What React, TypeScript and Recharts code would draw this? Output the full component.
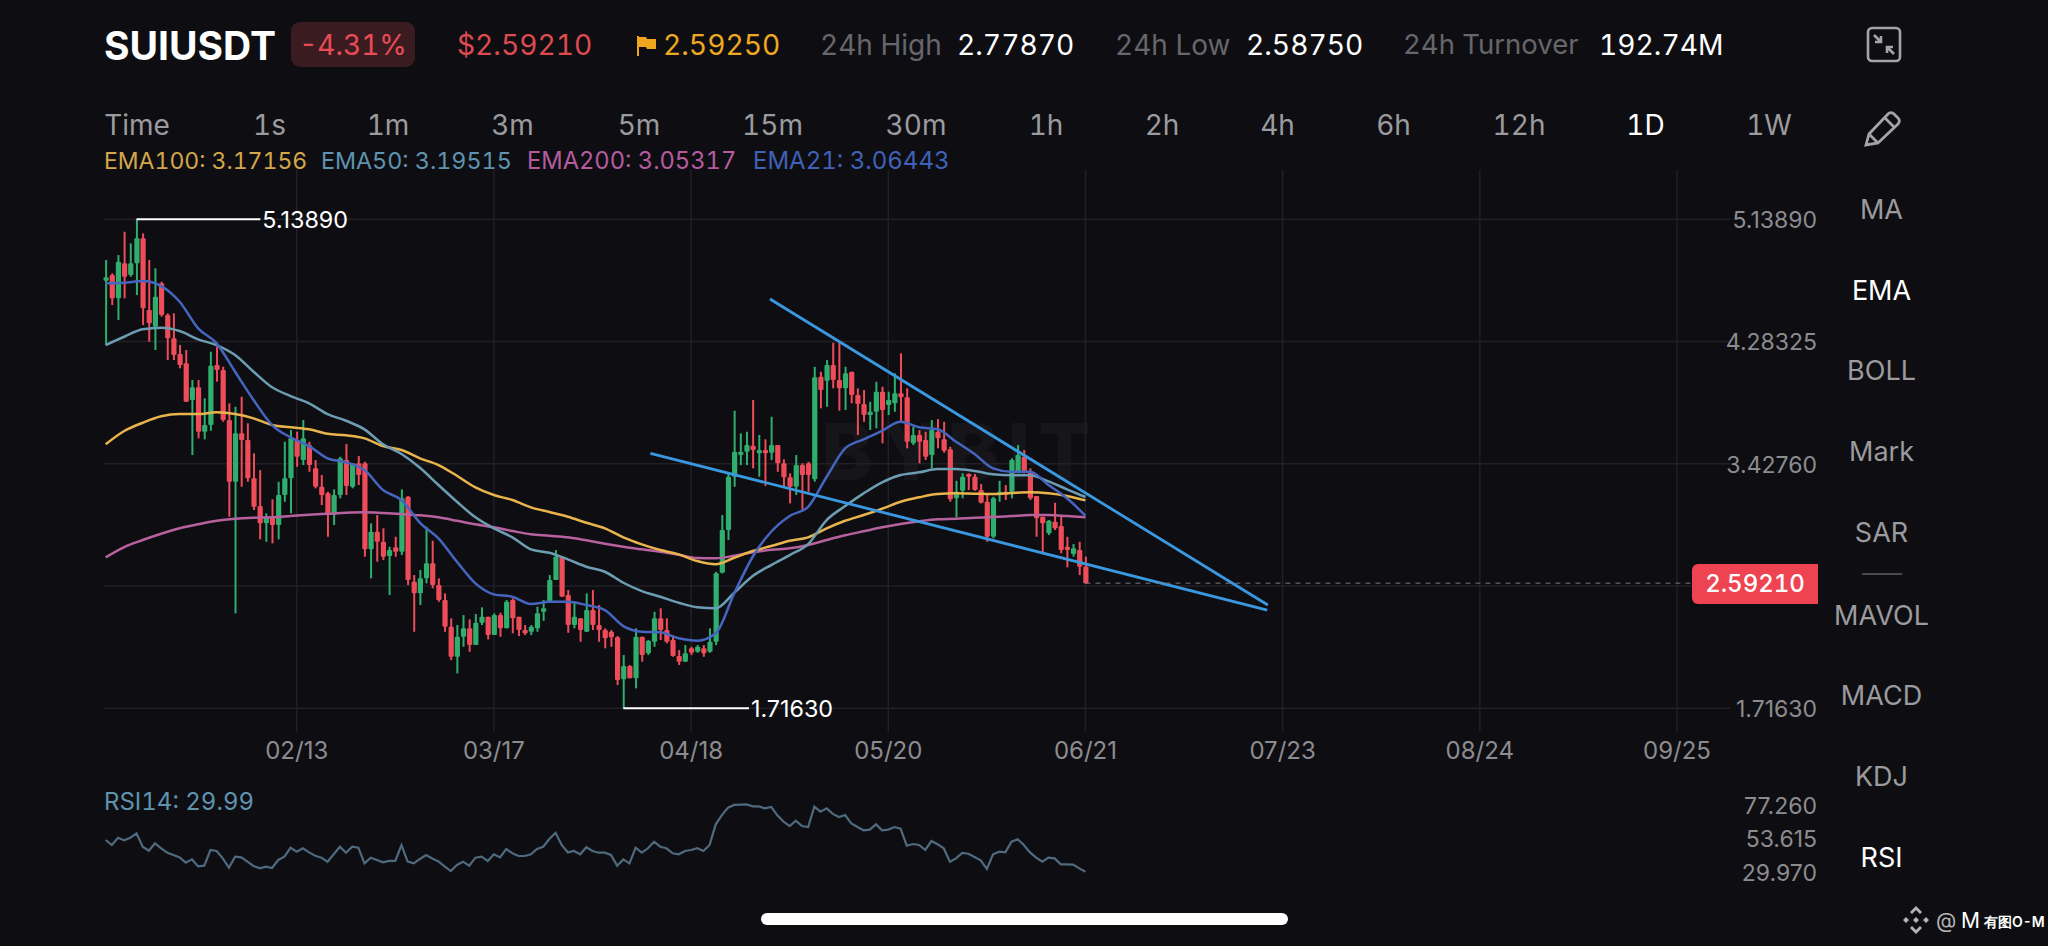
import { Bar, CartesianGrid, ComposedChart, Line, ReferenceDot, ReferenceLine, XAxis, YAxis } from "recharts"

// daily candles, 01/13 to 06/21
const opens = [
  4.709, 4.749, 4.586, 4.831, 4.749, 4.831, 5.006, 4.504, 4.387, 4.691,
  4.469, 4.306, 4.196, 4.131, 3.874, 3.963, 3.652, 3.699, 4.119, 4.084,
  3.734, 3.302, 3.641, 3.594, 3.326, 3.132, 3.011, 3.057, 2.999, 3.209,
  3.326, 3.589, 3.454, 3.559, 3.396, 3.267, 3.221, 3.069, 3.209, 3.454,
  3.267, 3.431, 3.431, 2.829, 2.952, 2.882, 2.782, 2.843, 2.812, 3.197,
  2.602, 2.521, 2.626, 2.731, 2.579, 2.474, 2.287, 2.077, 2.217, 2.276,
  2.159, 2.315, 2.357, 2.229, 2.369, 2.276, 2.474, 2.357, 2.264, 2.252,
  2.276, 2.392, 2.462, 2.614, 2.777, 2.509, 2.299, 2.346, 2.252, 2.404,
  2.299, 2.264, 2.252, 2.213, 1.919, 2.012, 1.926, 2.217, 2.101, 2.182,
  2.346, 2.264, 2.194, 2.082, 2.042, 2.136, 2.112, 2.136, 2.112, 2.182,
  2.665, 2.964, 3.337, 3.489, 3.512, 3.554, 3.501, 3.524, 3.505, 3.559,
  3.431, 3.333, 3.267, 3.419, 3.431, 3.319, 4.037, 4.009, 4.119, 4.014,
  3.956, 4.072, 3.909, 3.846, 3.769, 3.792, 3.932, 3.839, 3.851, 3.921,
  3.893, 3.571, 3.629, 3.594, 3.489, 3.652, 3.599, 3.529, 3.186, 3.239,
  3.356, 3.337, 3.244, 3.162, 2.917, 3.209, 3.232, 3.232, 3.365, 3.477,
  3.372, 3.202, 3.057, 2.941, 3.022, 2.992, 2.847, 2.796, 2.824, 2.7087,
]
const closes = [
  4.733, 4.586, 4.842, 4.737, 4.831, 5.006, 4.516, 4.411, 4.597, 4.469,
  4.306, 4.189, 4.119, 3.862, 3.963, 3.652, 3.699, 4.114, 4.084, 3.734,
  3.302, 3.641, 3.594, 3.326, 3.127, 3.011, 3.057, 2.999, 3.209, 3.326,
  3.606, 3.477, 3.606, 3.419, 3.267, 3.209, 3.069, 3.209, 3.466, 3.272,
  3.431, 3.349, 2.829, 2.952, 2.882, 2.777, 2.824, 2.812, 3.186, 2.614,
  2.521, 2.626, 2.731, 2.579, 2.474, 2.287, 2.077, 2.217, 2.276, 2.159,
  2.315, 2.357, 2.229, 2.369, 2.276, 2.462, 2.346, 2.264, 2.241, 2.287,
  2.381, 2.416, 2.614, 2.777, 2.497, 2.299, 2.357, 2.264, 2.404, 2.299,
  2.264, 2.206, 2.213, 1.914, 2.012, 1.926, 2.217, 2.089, 2.189, 2.346,
  2.264, 2.182, 2.082, 2.042, 2.101, 2.105, 2.147, 2.101, 2.182, 2.661,
  2.964, 3.337, 3.512, 3.512, 3.559, 3.524, 3.524, 3.501, 3.559, 3.431,
  3.333, 3.267, 3.419, 3.349, 3.349, 4.033, 3.944, 4.119, 4.014, 3.956,
  4.061, 3.909, 3.846, 3.769, 3.792, 3.932, 3.804, 3.874, 3.921, 3.893,
  3.582, 3.629, 3.582, 3.477, 3.664, 3.606, 3.519, 3.179, 3.232, 3.337,
  3.337, 3.244, 3.155, 2.917, 3.186, 3.232, 3.209, 3.454, 3.489, 3.372,
  3.186, 3.046, 3.011, 3.029, 2.976, 2.824, 2.824, 2.836, 2.707, 2.5921,
]
const highs = [
  4.854, 4.761, 4.889, 5.052, 4.971, 5.1389, 5.041, 4.854, 4.796, 4.702,
  4.481, 4.481, 4.259, 4.224, 4.014, 4.014, 3.886, 4.212, 4.247, 4.107,
  3.851, 3.827, 3.897, 3.711, 3.501, 3.384, 3.081, 3.179, 3.302, 3.582,
  3.664, 3.652, 3.734, 3.582, 3.454, 3.349, 3.232, 3.249, 3.477, 3.566,
  3.431, 3.482, 3.442, 3.011, 3.069, 2.976, 2.847, 2.917, 3.249, 3.202,
  2.649, 2.684, 2.987, 2.889, 2.626, 2.521, 2.346, 2.299, 2.369, 2.339,
  2.376, 2.423, 2.357, 2.381, 2.385, 2.474, 2.486, 2.357, 2.299, 2.299,
  2.427, 2.474, 2.649, 2.824, 2.777, 2.544, 2.462, 2.346, 2.521, 2.544,
  2.439, 2.276, 2.264, 2.222, 2.089, 2.019, 2.276, 2.217, 2.194, 2.392,
  2.416, 2.346, 2.229, 2.124, 2.159, 2.147, 2.159, 2.159, 2.276, 2.672,
  3.069, 3.361, 3.799, 3.641, 3.652, 3.874, 3.629, 3.599, 3.757, 3.559,
  3.459, 3.361, 3.489, 3.431, 3.442, 4.107, 4.072, 4.154, 4.275, 4.282,
  4.107, 4.072, 3.956, 3.944, 3.862, 4.002, 3.967, 3.932, 4.061, 4.201,
  3.956, 3.687, 3.664, 3.652, 3.734, 3.741, 3.722, 3.547, 3.309, 3.361,
  3.361, 3.356, 3.286, 3.209, 3.197, 3.309, 3.279, 3.466, 3.559, 3.524,
  3.396, 3.202, 3.057, 3.034, 3.155, 3.057, 2.917, 2.866, 2.882, 2.7787,
]
const lows = [
  4.259, 4.539, 4.434, 4.586, 4.737, 4.609, 4.399, 4.282, 4.224, 4.457,
  4.154, 4.154, 4.096, 3.862, 3.489, 3.606, 3.599, 3.659, 4.002, 3.722,
  3.057, 2.381, 3.267, 3.302, 3.104, 2.899, 2.882, 2.871, 2.899, 3.162,
  3.081, 3.407, 3.419, 3.372, 3.256, 3.139, 2.917, 2.999, 3.186, 3.209,
  3.256, 3.279, 2.777, 2.626, 2.742, 2.754, 2.509, 2.777, 2.789, 2.579,
  2.252, 2.439, 2.591, 2.556, 2.462, 2.252, 2.054, 1.961, 2.147, 2.112,
  2.159, 2.299, 2.199, 2.229, 2.217, 2.276, 2.241, 2.222, 2.229, 2.229,
  2.252, 2.329, 2.462, 2.614, 2.497, 2.245, 2.276, 2.182, 2.252, 2.264,
  2.182, 2.136, 2.147, 1.879, 1.7163, 1.926, 1.856, 2.042, 2.089, 2.147,
  2.194, 2.171, 2.077, 2.019, 2.042, 2.089, 2.105, 2.077, 2.105, 2.159,
  2.661, 2.894, 3.267, 3.419, 3.419, 3.396, 3.337, 3.272, 3.454, 3.372,
  3.267, 3.151, 3.209, 3.104, 3.232, 3.302, 3.816, 3.827, 3.956, 3.799,
  3.804, 3.851, 3.629, 3.722, 3.664, 3.676, 3.571, 3.769, 3.792, 3.722,
  3.536, 3.559, 3.431, 3.454, 3.396, 3.536, 3.505, 3.162, 3.053, 3.186,
  3.244, 3.239, 3.151, 2.882, 2.906, 3.162, 3.174, 3.186, 3.361, 3.361,
  3.174, 2.917, 2.805, 2.929, 2.964, 2.801, 2.703, 2.777, 2.649, 2.5875,
]

// ema values read every third candle
const ema21Values = [
  4.691, 4.695, 4.707, 4.672, 4.562, 4.376, 4.271, 4.072, 3.874, 3.699,
  3.613, 3.552, 3.466, 3.438, 3.384, 3.244, 3.174, 3.015, 2.906, 2.742,
  2.591, 2.514, 2.497, 2.446, 2.462, 2.462, 2.439, 2.404, 2.292, 2.252,
  2.248, 2.206, 2.189, 2.241, 2.521, 2.777, 2.952, 3.062, 3.127, 3.337,
  3.536, 3.599, 3.659, 3.722, 3.683, 3.669, 3.582, 3.496, 3.396, 3.372,
  3.372, 3.279, 3.186, 3.06443,
]
const ema50Values = [
  4.259, 4.317, 4.369, 4.38, 4.357, 4.299, 4.259, 4.189, 4.072, 3.963,
  3.902, 3.851, 3.776, 3.729, 3.669, 3.564, 3.496, 3.4, 3.279, 3.162,
  3.053, 2.976, 2.913, 2.829, 2.805, 2.759, 2.707, 2.672, 2.595, 2.537,
  2.497, 2.455, 2.423, 2.416, 2.525, 2.642, 2.719, 2.789, 2.866, 3.034,
  3.132, 3.221, 3.298, 3.349, 3.368, 3.391, 3.391, 3.377, 3.354, 3.347,
  3.347, 3.305, 3.249, 3.19515,
]
const ema100Values = [
  3.564, 3.657, 3.715, 3.76, 3.776, 3.776, 3.788, 3.776, 3.746, 3.699,
  3.683, 3.669, 3.638, 3.627, 3.606, 3.552, 3.524, 3.466, 3.419, 3.344,
  3.263, 3.209, 3.174, 3.123, 3.09, 3.057, 3.015, 2.976, 2.913, 2.864,
  2.824, 2.794, 2.747, 2.724, 2.77, 2.817, 2.852, 2.889, 2.913, 2.976,
  3.029, 3.069, 3.113, 3.162, 3.193, 3.216, 3.221, 3.218, 3.216, 3.223,
  3.228, 3.221, 3.202, 3.17156,
]
const ema200Values = [
  2.773, 2.845, 2.894, 2.938, 2.976, 3.004, 3.029, 3.043, 3.05, 3.053,
  3.062, 3.071, 3.078, 3.085, 3.088, 3.083, 3.076, 3.067, 3.053, 3.029,
  3.004, 2.983, 2.957, 2.934, 2.924, 2.913, 2.892, 2.868, 2.847, 2.829,
  2.812, 2.791, 2.768, 2.766, 2.784, 2.808, 2.826, 2.836, 2.859, 2.894,
  2.927, 2.955, 2.983, 3.006, 3.025, 3.039, 3.043, 3.05, 3.055, 3.062,
  3.069, 3.069, 3.062, 3.05317,
]

const rsiValues = [
  52.2, 48.7, 53.8, 52.0, 53.8, 56.9, 47.5, 44.7, 49.9, 46.4,
  43.3, 41.7, 40.0, 36.3, 38.6, 33.7, 34.2, 45.2, 44.5, 39.3,
  32.8, 40.5, 40.0, 37.0, 34.0, 32.3, 33.5, 32.6, 38.2, 40.5,
  46.8, 44.0, 46.4, 43.5, 41.2, 39.8, 37.0, 42.2, 47.5, 43.3,
  47.5, 46.8, 35.8, 39.8, 38.2, 36.5, 37.5, 37.5, 48.7, 37.0,
  35.8, 38.9, 41.7, 39.3, 37.2, 33.7, 30.4, 34.7, 37.0, 34.2,
  39.8, 40.5, 37.5, 42.2, 40.0, 45.9, 42.9, 41.0, 41.0, 42.2,
  45.9, 47.5, 52.9, 57.3, 48.7, 43.5, 44.5, 42.2, 47.1, 44.5,
  43.3, 43.3, 41.7, 34.2, 38.6, 35.8, 46.8, 43.3, 46.4, 51.0,
  47.5, 46.4, 42.9, 42.2, 44.5, 45.2, 46.4, 44.5, 48.7, 63.2,
  69.7, 74.9, 76.8, 77.0, 77.2, 75.8, 75.8, 74.4, 75.4, 69.5,
  65.1, 62.0, 65.8, 62.0, 61.3, 75.6, 72.1, 74.4, 70.5, 68.3,
  69.7, 63.9, 61.3, 59.0, 59.5, 63.2, 59.0, 59.5, 61.3, 60.2,
  48.2, 49.4, 48.7, 45.2, 51.5, 49.2, 46.4, 37.0, 39.3, 43.1,
  42.6, 40.3, 38.0, 31.9, 42.2, 44.0, 43.5, 51.0, 52.7, 48.7,
  43.5, 39.8, 37.0, 39.8, 39.3, 35.1, 35.1, 34.9, 32.3, 29.99,
]

const dateTicks = [31, 63, 95, 127, 159, 191, 223, 255]
const dateLabels = ["02/13", "03/17", "04/18", "05/20", "06/21", "07/23", "08/24", "09/25"]
const priceTicks = [1.7163, 2.57195, 3.4276, 4.28325, 5.1389]
const rsiTicks = [29.97, 53.615, 77.26]

const intervals = ["Time", "1s", "1m", "3m", "5m", "15m", "30m", "1h", "2h", "4h", "6h", "12h", "1D", "1W"]
const indicators = ["MA", "EMA", "BOLL", "Mark", "SAR", "MAVOL", "MACD", "KDJ", "RSI"]

const rows = opens.map((open, i) => ({
  day: i,
  open,
  close: closes[i],
  high: highs[i],
  low: lows[i],
  range: [lows[i], highs[i]],
  rsi: rsiValues[i],
  ema21: i % 3 === 0 ? ema21Values[i / 3] : null,
  ema50: i % 3 === 0 ? ema50Values[i / 3] : null,
  ema100: i % 3 === 0 ? ema100Values[i / 3] : null,
  ema200: i % 3 === 0 ? ema200Values[i / 3] : null,
}))

const UP = "#2fae6e"
const DOWN = "#ee4c59"
const BG = "#0e0e12"
const DAY_DOMAIN = [-0.276, 263.6]

function Candle(props: any) {
  const { x, y, width, height, payload } = props
  const cx = x + width / 2
  const h = Math.abs(height)
  const span = payload.high - payload.low
  const py = (v: number) => y + ((payload.high - v) / span) * h
  const color = payload.close >= payload.open ? UP : DOWN
  const top = py(Math.max(payload.open, payload.close))
  const bottom = py(Math.min(payload.open, payload.close))
  return (
    <g>
      <line x1={cx} x2={cx} y1={y} y2={y + h} stroke={color} strokeWidth={2} />
      <rect x={cx - 2.6} y={top} width={5.2} height={Math.max(bottom - top, 1.5)} rx={1} fill={color} />
    </g>
  )
}

function Txt({ x, y, size, color, weight, center, children, spacing }: any) {
  return (
    <div
      style={{
        position: "absolute",
        left: x,
        top: y,
        transform: center ? "translate(-50%,-50%)" : "translateY(-50%)",
        fontSize: size,
        color,
        fontWeight: weight || 400,
        lineHeight: 1,
        whiteSpace: "nowrap",
        letterSpacing: spacing,
        fontVariantNumeric: "tabular-nums",
      }}
    >
      {children}
    </div>
  )
}

const intervalX = [137, 269.5, 388, 512.5, 639, 772.5, 916, 1046, 1162, 1277.5, 1393.5, 1519, 1645.5, 1769]
const indicatorY = [209, 289.5, 369.5, 451, 531.5, 615, 695, 776, 856.5]

export default function App() {
  return (
    <div
      style={{
        position: "absolute",
        left: 0,
        top: 0,
        width: 2048,
        height: 946,
        overflow: "hidden",
        background: BG,
        fontFamily: "Inter, sans-serif",
      }}
    >
      {/* header */}
      <Txt x={104} y={45} size={39} color="#fff" weight={700}>SUIUSDT</Txt>
      <div style={{ position: "absolute", left: 291, top: 22, width: 124, height: 45, borderRadius: 9, background: "#3a1b20" }} />
      <Txt x={353} y={45} size={28} color="#ea4b57" center>-4.31%</Txt>
      <Txt x={457} y={45} size={28.2} color="#dd4a50">$2.59210</Txt>
      <svg style={{ position: "absolute", left: 636, top: 35 }} width={21} height={22}>
        <path d="M1 1h2v20H1z M3 2h7l1 2h9v10h-9l-1-2H3z" fill="#f0a61c" />
      </svg>
      <Txt x={663} y={45} size={28.2} color="#eea821">2.59250</Txt>
      <Txt x={820} y={45} size={28} color="#66666b">24h High</Txt>
      <Txt x={957} y={45} size={28.2} color="#fff">2.77870</Txt>
      <Txt x={1115} y={45} size={28} color="#66666b">24h Low</Txt>
      <Txt x={1246} y={45} size={28.2} color="#fff">2.58750</Txt>
      <Txt x={1403} y={45} size={27.5} color="#66666b">24h Turnover</Txt>
      <Txt x={1599} y={45} size={28.2} color="#fff">192.74M</Txt>
      <svg style={{ position: "absolute", left: 1866, top: 26 }} width={36} height={37} fill="none" stroke="#a5a5a8">
        <rect x={2} y={2} width={32} height={33} rx={4} strokeWidth={2.6} />
        <path d="M8 9l7 7M15 10v6H9M28 28l-7-7M21 27v-6h6" strokeWidth={2.6} />
      </svg>
      <svg style={{ position: "absolute", left: 1864, top: 110 }} width={38} height={38} fill="none" stroke="#a5a5a8" strokeWidth={2.8}>
        <path d="M2 35l3-11L24 4a4 4 0 0 1 6 0l4 4a4 4 0 0 1 0 6L14 33z M21 8l10 10 M5 24l9 9" />
      </svg>

      {/* interval tabs */}
      {intervals.map((label, i) => (
        <Txt key={label} x={intervalX[i]} y={125} size={28} color={label === "1D" ? "#fff" : "#9b9b9f"} center>
          {label}
        </Txt>
      ))}

      {/* ema legend */}
      <Txt x={104} y={160.5} size={23} color="#d4a74a">EMA100: 3.17156</Txt>
      <Txt x={321} y={160.5} size={23.3} color="#5f93b0">EMA50: 3.19515</Txt>
      <Txt x={527} y={160.5} size={23.7} color="#b55ba0">EMA200: 3.05317</Txt>
      <Txt x={753} y={160.5} size={24} color="#3f62b8">EMA21: 3.06443</Txt>

      {/* exchange mark behind the candles */}
      <Txt x={960} y={452} size={78} color="#15151a" weight={800} spacing={8} center>BYBIT</Txt>

      <div style={{ position: "absolute", left: 0, top: 0 }}>
        <ComposedChart width={2048} height={780} data={rows} margin={{ top: 170, right: 231, left: 104, bottom: 0 }}>
          <CartesianGrid stroke="#202025" strokeWidth={1.5} syncWithTicks />
          <XAxis
            dataKey="day"
            type="number"
            domain={DAY_DOMAIN}
            ticks={dateTicks}
            height={48}
            axisLine={false}
            tickLine={false}
            tickSize={0}
            tick={({ x, y, payload }: any) => (
              <text x={x} y={y + 18} textAnchor="middle" dominantBaseline="middle" fontSize={24} fill="#8c8c90">
                {dateLabels[dateTicks.indexOf(payload.value)]}
              </text>
            )}
          />
          <YAxis
            orientation="right"
            type="number"
            domain={[1.5504, 5.4842]}
            ticks={priceTicks}
            width={87}
            axisLine={false}
            tickLine={false}
            tickSize={0}
            tick={({ x, y, payload }: any) =>
              payload.value === 2.57195 ? (
                <g />
              ) : (
                <text x={x + 85} y={y + 2.5} textAnchor="end" dominantBaseline="middle" fontSize={23} fill="#8c8c90">
                  {payload.value.toFixed(5)}
                </text>
              )
            }
          />
          <Bar dataKey="range" barSize={5} shape={<Candle />} isAnimationActive={false} />
          <Line dataKey="ema200" stroke="#b8619f" strokeWidth={2.5} dot={false} connectNulls type="monotone" isAnimationActive={false} />
          <Line dataKey="ema100" stroke="#e9b44c" strokeWidth={2.5} dot={false} connectNulls type="monotone" isAnimationActive={false} />
          <Line dataKey="ema50" stroke="#6d9db3" strokeWidth={2.5} dot={false} connectNulls type="monotone" isAnimationActive={false} />
          <Line dataKey="ema21" stroke="#4565c0" strokeWidth={2.5} dot={false} connectNulls type="monotone" isAnimationActive={false} />
          <ReferenceLine segment={[{ x: 107.8, y: 4.581 }, { x: 188.6, y: 2.439 }]} stroke="#3a98e0" strokeWidth={2.8} />
          <ReferenceLine segment={[{ x: 88.4, y: 3.501 }, { x: 188.5, y: 2.404 }]} stroke="#3a98e0" strokeWidth={2.8} />
          <ReferenceLine segment={[{ x: 159, y: 2.5921 }, { x: 257.4, y: 2.5921 }]} stroke="#77777b" strokeDasharray="5 5" strokeWidth={1} />
          <ReferenceLine segment={[{ x: 5, y: 5.1389 }, { x: 25.1, y: 5.1389 }]} stroke="#fff" strokeWidth={2} />
          <ReferenceLine segment={[{ x: 84, y: 1.7163 }, { x: 104.4, y: 1.7163 }]} stroke="#fff" strokeWidth={2} />
          <ReferenceDot x={25.1} y={5.1389} r={0} fill="none" stroke="none" label={{ value: "5.13890", position: "right", offset: 2, fill: "#fff", fontSize: 23.3 }} />
          <ReferenceDot x={104.4} y={1.7163} r={0} fill="none" stroke="none" label={{ value: "1.71630", position: "right", offset: 2, fill: "#fff", fontSize: 23.3 }} />
        </ComposedChart>
      </div>

      {/* last price tag */}
      <div style={{ position: "absolute", left: 1692, top: 564, width: 126, height: 40, borderRadius: "6px 0 0 6px", background: "#ee4452" }} />
      <Txt x={1755} y={584} size={24} color="#fff" weight={500} center>2.59210</Txt>

      {/* rsi pane */}
      <Txt x={104} y={802} size={24} color="#5f93b0">RSI14: 29.99</Txt>
      <div style={{ position: "absolute", left: 0, top: 760 }}>
        <ComposedChart width={2048} height={130} data={rows} margin={{ top: 44.3, right: 231, left: 104, bottom: 18.3 }}>
          <XAxis dataKey="day" type="number" domain={DAY_DOMAIN} hide />
          <YAxis
            orientation="right"
            type="number"
            domain={[29.97, 77.26]}
            ticks={rsiTicks}
            width={87}
            axisLine={false}
            tickLine={false}
            tickSize={0}
            tick={({ x, y, payload }: any) => (
              <text x={x + 85} y={y + 3} textAnchor="end" dominantBaseline="middle" fontSize={23} fill="#8c8c90">
                {payload.value.toFixed(3)}
              </text>
            )}
          />
          <Line dataKey="rsi" stroke="#4f6a7e" strokeWidth={2.2} dot={false} isAnimationActive={false} />
        </ComposedChart>
      </div>

      {/* indicator menu */}
      {indicators.map((label, i) => (
        <Txt
          key={label}
          x={1881.5}
          y={indicatorY[i]}
          size={27}
          color={label === "EMA" || label === "RSI" ? "#fff" : "#9b9b9f"}
          center
        >
          {label}
        </Txt>
      ))}
      <div style={{ position: "absolute", left: 1862, top: 573, width: 40, height: 1.5, background: "#4a4a4e" }} />

      {/* home bar and watermark */}
      <div style={{ position: "absolute", left: 761, top: 913, width: 527, height: 12, borderRadius: 6, background: "#fff" }} />
      <svg style={{ position: "absolute", left: 1902, top: 905 }} width={28} height={30} fill="#b5b5b8">
        <path d="M14 1l6 6-2 2-4-4-4 4-2-2z M14 29l6-6-2-2-4 4-4-4-2 2z M1 15l3-3 3 3-3 3z M21 15l3-3 3 3-3 3z M14 12l3 3-3 3-3-3z" />
      </svg>
      <Txt x={1936} y={920} size={21} color="#b5b5b8">@</Txt>
      <Txt x={1961} y={920} size={21} color="#fff">M</Txt>
      <Txt x={1984} y={922} size={14} color="#fff" weight={600}>有图O-M</Txt>
    </div>
  )
}
